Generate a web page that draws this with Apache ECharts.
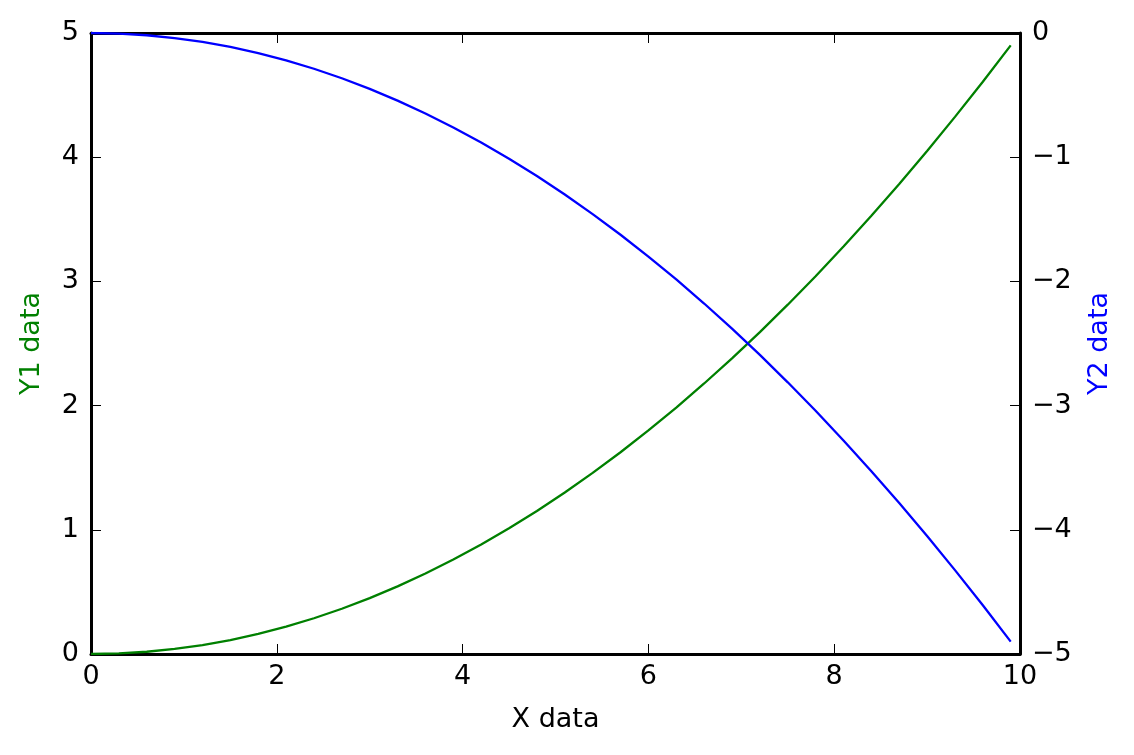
<!DOCTYPE html>
<html>
<head>
<meta charset="utf-8">
<script src="https://cdn.jsdelivr.net/npm/echarts@6/dist/echarts.min.js"></script>
<style>
html,body{margin:0;padding:0;background:#fff;}
#chart{width:1134px;height:755px;}
</style>
</head>
<body>
<div id="chart"></div>
<script>
var xValues = [0, 0.3, 0.6, 0.9, 1.2, 1.5, 1.8, 2.1, 2.4, 2.7, 3.0, 3.3, 3.6, 3.9, 4.2, 4.5, 4.8, 5.1, 5.4, 5.7, 6.0, 6.3, 6.6, 6.9, 7.2, 7.5, 7.8, 8.1, 8.4, 8.7, 9.0, 9.3, 9.6, 9.9];
var y1Values = [0, 0.0045, 0.018, 0.0405, 0.072, 0.1125, 0.162, 0.2205, 0.288, 0.3645, 0.45, 0.5445, 0.648, 0.7605, 0.882, 1.0125, 1.152, 1.3005, 1.458, 1.6245, 1.8, 1.9845, 2.178, 2.3805, 2.592, 2.8125, 3.042, 3.2805, 3.528, 3.7845, 4.05, 4.3245, 4.608, 4.9005];
var y2Values = [0, -0.0045, -0.018, -0.0405, -0.072, -0.1125, -0.162, -0.2205, -0.288, -0.3645, -0.45, -0.5445, -0.648, -0.7605, -0.882, -1.0125, -1.152, -1.3005, -1.458, -1.6245, -1.8, -1.9845, -2.178, -2.3805, -2.592, -2.8125, -3.042, -3.2805, -3.528, -3.7845, -4.05, -4.3245, -4.608, -4.9005];
var xTicks = [0, 2, 4, 6, 8, 10];
var y1Ticks = [0, 1, 2, 3, 4, 5];
var y2Ticks = [-5, -4, -3, -2, -1, 0];

var FONT = 'DejaVu Sans';
var FS = 27;
function fmt(v){ return String(v).replace('-', '\u2212'); }

var chart = echarts.init(document.getElementById('chart'), null, {renderer:'canvas'});
var axisLine = {show:true, onZero:false, lineStyle:{color:'#000', width:3}};
var axisTick = {show:true, inside:true, length:10, lineStyle:{color:'#000', width:1}};
var labelBase = {color:'#000', fontFamily:FONT, fontSize:FS};

chart.setOption({
  animation:false,
  backgroundColor:'#fff',
  grid:{left:91, right:114, top:33, bottom:101, containLabel:false},
  xAxis:[
    {type:'value', min:xTicks[0], max:xTicks[xTicks.length-1], interval:2, position:'bottom',
     axisLine:axisLine, axisTick:axisTick, splitLine:{show:false},
     axisLabel:Object.assign({margin:9, formatter:fmt}, labelBase),
     name:'X data', nameLocation:'middle', nameGap:52,
     nameTextStyle:{color:'#000', fontFamily:FONT, fontSize:FS}},
    {type:'value', min:xTicks[0], max:xTicks[xTicks.length-1], interval:2, position:'top',
     axisLine:axisLine, axisTick:axisTick, splitLine:{show:false}, axisLabel:{show:false}}
  ],
  yAxis:[
    {type:'value', min:y1Ticks[0], max:y1Ticks[y1Ticks.length-1], interval:1, position:'left',
     axisLine:axisLine, axisTick:axisTick, splitLine:{show:false},
     axisLabel:Object.assign({margin:12, formatter:fmt}, labelBase),
     name:'Y1 data', nameLocation:'middle', nameGap:46, nameRotate:90,
     nameTextStyle:{color:'#008000', fontFamily:FONT, fontSize:FS}},
    {type:'value', min:y2Ticks[0], max:y2Ticks[y2Ticks.length-1], interval:1, position:'right',
     axisLine:axisLine, axisTick:axisTick, splitLine:{show:false},
     axisLabel:Object.assign({margin:12, formatter:fmt}, labelBase),
     name:'Y2 data', nameLocation:'middle', nameGap:66, nameRotate:90,
     nameTextStyle:{color:'#0000ff', fontFamily:FONT, fontSize:FS}}
  ],
  series:[
    {type:'line', xAxisIndex:0, yAxisIndex:0, showSymbol:false, smooth:false,
     lineStyle:{color:'#008000', width:2.3}, itemStyle:{color:'#008000'},
     data:xValues.map(function(x,i){return [x, y1Values[i]];})},
    {type:'line', xAxisIndex:0, yAxisIndex:1, showSymbol:false, smooth:false,
     lineStyle:{color:'#0000ff', width:2.3}, itemStyle:{color:'#0000ff'},
     data:xValues.map(function(x,i){return [x, y2Values[i]];})}
  ]
});
</script>
</body>
</html>
